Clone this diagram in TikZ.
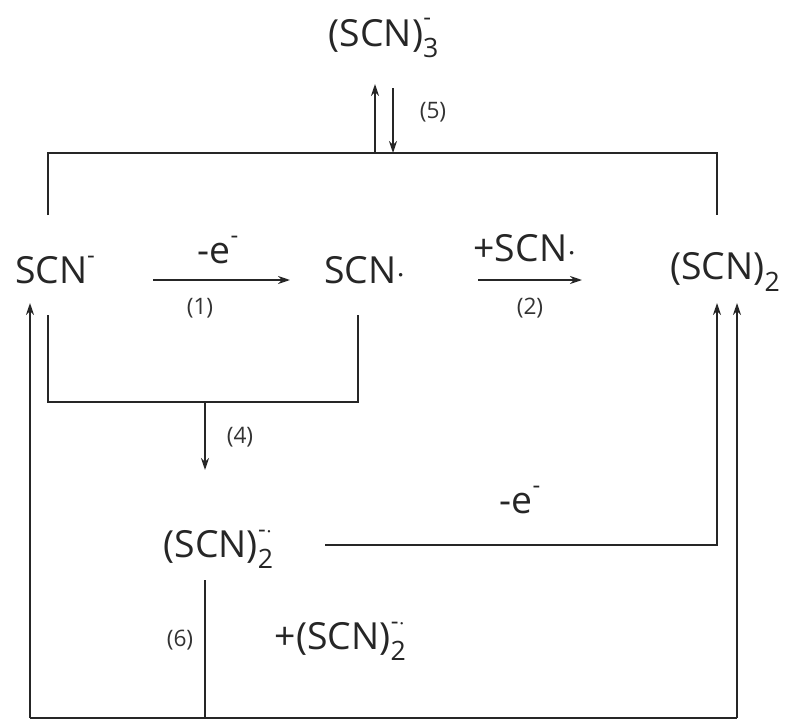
\documentclass[tikz,border=0pt]{standalone}
\usepackage{fontspec}
\setmainfont{Open Sans}
\usetikzlibrary{arrows.meta}
\newcommand{\up}[1]{\raisebox{0.55em}{\fontsize{18}{20}\selectfont #1}}
\newcommand{\dn}[1]{\raisebox{-0.3em}{\fontsize{20}{22}\selectfont #1}}
\begin{document}
\begin{tikzpicture}[x=0.75pt,y=-0.75pt,
  ln/.style={line width=1.3pt,draw=black!85},
  ar/.style={ln,-{Stealth[length=9pt,width=6pt]}},
  big/.style={font=\fontsize{28}{32}\selectfont,text=black!85,inner sep=0pt},
  sm/.style={font=\fontsize{17}{20}\selectfont,text=black!80}]
\useasboundingbox (0,0) rectangle (800,728);
\node[big] (t3) at (380,38) {(SCN)\dn{3}\hspace{-0.4em}\up{-}};
\node[big] (a) at (55,270) {SCN\up{-}};
\node[big] (r) at (365,270) {SCN$\cdot$};
\node[big] (d) at (725,272) {(SCN)\dn{2}};
\node[big] (dr) at (218,548) {(SCN)\dn{2}\hspace{-0.4em}\up{-$\cdot$}};
\coordinate (tl) at (48,153); \coordinate (tr) at (717,153);
\draw[ln] (48,215) -- (tl) -- (tr) -- (717,215);
\draw[ar] (375,153) -- (375,84);
\draw[ar] (393,88) -- (393,153);
\node[sm] (l5) at (433,112) {(5)};
\draw[ar] (153,280) -- (290,280);
\node[big] (e1) at (218,250) {-e\up{-}};
\node[sm] (l1) at (200,308) {(1)};
\draw[ar] (478,280) -- (582,280);
\node[big] (p2) at (525,248) {+SCN$\cdot$};
\node[sm] (l2) at (530,308) {(2)};
\draw[ln] (48,315) -- (48,402) -- (358,402) -- (358,315);
\draw[ar] (205,402) -- (205,470);
\node[sm] (l4) at (240,437) {(4)};
\draw[ar] (325,545) -- (717,545) -- (717,303);
\node[big] (e2) at (520,500) {-e\up{-}};
\draw[ln] (205,580) -- (205,718);
\node[sm] (l6) at (180,640) {(6)};
\node[big] (p6) at (340,640) {+(SCN)\dn{2}\hspace{-0.4em}\up{-$\cdot$}};
\draw[ar] (737,718) -- (737,303);
\draw[ar] (30,718) -- (30,303);
\draw[ln] (30,718) -- (737,718);
\end{tikzpicture}
\end{document}
